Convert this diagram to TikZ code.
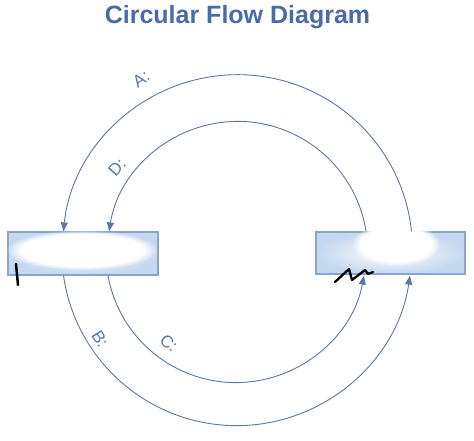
\documentclass[tikz,border=0pt]{standalone}
\usepackage{fontspec}
\setmainfont{Liberation Sans}
\usetikzlibrary{arrows.meta,fadings}
\definecolor{flowblue}{HTML}{5B77A6}
\definecolor{titleblue}{HTML}{4A6BA6}
\definecolor{boxedge}{HTML}{8AA4CC}
\definecolor{boxfill}{HTML}{C4D8EF}

\tikzset{
  flow/.style={draw=flowblue, line width=0.9pt, -{Triangle[length=9pt,width=7pt]}},
  sector/.style={draw=boxedge, line width=1.2pt, minimum width=150pt, minimum height=43pt,
                 inner color=white, outer color=boxfill},
  flowlabel/.style={text=flowblue, font=\fontsize{17}{17}\selectfont, inner sep=1pt},
  smudge/.style={fill=white, path fading=circle with fuzzy edge 20 percent},
}

\begin{document}
\begin{tikzpicture}[x=1pt,y=1pt]
                \useasboundingbox (0,0) rectangle (474,440);

                \node [sector] (one) at (83,186.5) {};
                \node [sector, minimum width=149pt, minimum height=42pt] (two) at (390.5,187) {};

                \fill[smudge] (82,190) ellipse [x radius=76pt, y radius=20pt];
                \fill[smudge] (396,196) ellipse [x radius=44pt, y radius=22pt];

                \draw[flow] ([xshift=21pt]two.north) arc[start angle=6, end angle=174, radius=175pt];
                \draw[flow] ([xshift=-19.5pt]one.south) arc[start angle=188.2, end angle=351.8, radius=175pt];
                \draw[flow] ([xshift=-24.5pt]two.north) arc[start angle=8.85, end angle=171.15, radius=130pt];
                \draw[flow] ([xshift=25pt]one.south) arc[start angle=190.2, end angle=349.8, radius=130pt];

                \node [flowlabel, rotate=35] (a) at (141,361) {A:};
                \node [flowlabel, rotate=48] (d) at (117,273) {D:};
                \node [flowlabel, rotate=-58] (b) at (100,101) {B:};
                \node [flowlabel, rotate=-39] (c) at (169,97) {C:};

                \draw[line width=2.5pt, line cap=round] (16,176) -- (18,155);
                \draw[line width=2.3pt, line cap=round, line join=round]
                    (335,158) -- (349,171) -- (352,160) -- (365,170) -- (368,166) -- (373,168);

                \node [text=titleblue, font=\bfseries\fontsize{25}{25}\selectfont, anchor=base] (title)
                    at (237.5,416) {Circular Flow Diagram};
                \end{tikzpicture}
\end{document}
